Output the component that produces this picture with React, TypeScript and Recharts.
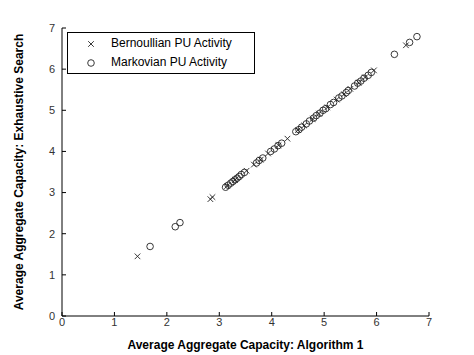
import React from 'react';
import { ScatterChart, Scatter, XAxis, YAxis, Legend } from 'recharts';

// values (algorithm 1 vs exhaustive search)
const bernoulliX = [1.44, 2.83, 2.87, 3.15, 3.30, 3.52, 3.66, 3.79, 3.93, 4.13, 4.30, 4.50, 4.62, 4.78, 4.90, 5.06, 5.24, 5.38, 5.50, 5.66, 5.78, 5.95, 6.56];
const bernoulliY = [1.45, 2.84, 2.89, 3.16, 3.31, 3.53, 3.68, 3.80, 3.95, 4.15, 4.31, 4.52, 4.63, 4.79, 4.92, 5.07, 5.26, 5.39, 5.52, 5.67, 5.80, 5.97, 6.58];

const markovX = [1.68, 2.16, 2.25, 3.12, 3.17, 3.22, 3.26, 3.30, 3.34, 3.38, 3.42, 3.48, 3.71, 3.76, 3.83, 3.98, 4.05, 4.12, 4.19, 4.46, 4.52, 4.57, 4.66, 4.72, 4.80, 4.85, 4.92, 4.98, 5.03, 5.12, 5.18, 5.28, 5.34, 5.42, 5.46, 5.58, 5.64, 5.70, 5.76, 5.84, 5.90, 6.34, 6.63, 6.77];
const markovY = [1.69, 2.17, 2.27, 3.13, 3.18, 3.23, 3.27, 3.31, 3.35, 3.39, 3.44, 3.49, 3.72, 3.78, 3.84, 4.00, 4.06, 4.14, 4.20, 4.48, 4.53, 4.59, 4.67, 4.74, 4.81, 4.87, 4.93, 5.00, 5.04, 5.14, 5.19, 5.30, 5.35, 5.43, 5.48, 5.59, 5.66, 5.71, 5.78, 5.85, 5.92, 6.36, 6.65, 6.79];

const axisTicks = [0, 1, 2, 3, 4, 5, 6, 7];

const bernoulli = bernoulliX.map((x, i) => ({ x, y: bernoulliY[i] }));
const markov = markovX.map((x, i) => ({ x, y: markovY[i] }));

const font = 'Arial, "Liberation Sans", Helvetica, sans-serif';

const Cross = (props: any) => {
  const { cx, cy } = props;
  const s = 2.8;
  return (
    <path d={`M${cx - s},${cy - s}L${cx + s},${cy + s}M${cx - s},${cy + s}L${cx + s},${cy - s}`} stroke="#222" strokeWidth={0.9} fill="none" />
  );
};

const Ring = (props: any) => {
  const { cx, cy } = props;
  return <circle cx={cx} cy={cy} r={3.3} stroke="#222" strokeWidth={0.9} fill="none" />;
};

const LegendBox = () => (
  <div style={{ width: 188, height: 42, border: '1px solid #000', background: '#fff', fontFamily: font, fontSize: 12, color: '#000', boxSizing: 'border-box', position: 'relative' }}>
    <svg width={30} height={40} style={{ position: 'absolute', left: 8, top: 0 }}>
      <Cross cx={15} cy={11} />
      <Ring cx={15} cy={30} />
    </svg>
    <div style={{ position: 'absolute', left: 43, top: 3, lineHeight: '15px' }}>Bernoullian PU Activity</div>
    <div style={{ position: 'absolute', left: 43, top: 22, lineHeight: '15px' }}>Markovian PU Activity</div>
  </div>
);

export default function App() {
  return (
    <div style={{ position: 'absolute', left: 0, top: 0, width: 474, height: 355, background: '#fff' }}>
      <ScatterChart width={474} height={355} margin={{ top: 28, right: 45, bottom: 0, left: 0 }}>
        <XAxis
          type="number"
          dataKey="x"
          domain={[0, 7]}
          ticks={axisTicks}
          height={39}
          tickSize={-4}
          tickMargin={6}
          stroke="#000"
          tick={{ fill: '#333', fontSize: 11, fontFamily: font }}
          label={{ value: 'Average Aggregate Capacity: Algorithm 1', position: 'insideBottom', offset: 6, style: { fill: '#000', fontSize: 12, fontWeight: 'bold', fontFamily: font } }}
        />
        <YAxis
          type="number"
          dataKey="y"
          domain={[0, 7]}
          ticks={axisTicks}
          width={62}
          tickSize={-4}
          tickMargin={11}
          stroke="#000"
          tick={{ fill: '#333', fontSize: 11, fontFamily: font }}
          label={{ value: 'Average Aggregate Capacity: Exhaustive Search', angle: -90, position: 'insideLeft', offset: 19, style: { textAnchor: 'middle', fill: '#000', fontSize: 12, fontWeight: 'bold', fontFamily: font } }}
        />
        <Legend
          layout="vertical"
          align="center"
          verticalAlign="middle"
          wrapperStyle={{ left: 67, top: 32, width: 188, height: 42 }}
          content={() => <LegendBox />}
        />
        <Scatter name="Bernoullian PU Activity" data={bernoulli} shape={Cross} isAnimationActive={false} />
        <Scatter name="Markovian PU Activity" data={markov} shape={Ring} isAnimationActive={false} />
      </ScatterChart>
    </div>
  );
}
